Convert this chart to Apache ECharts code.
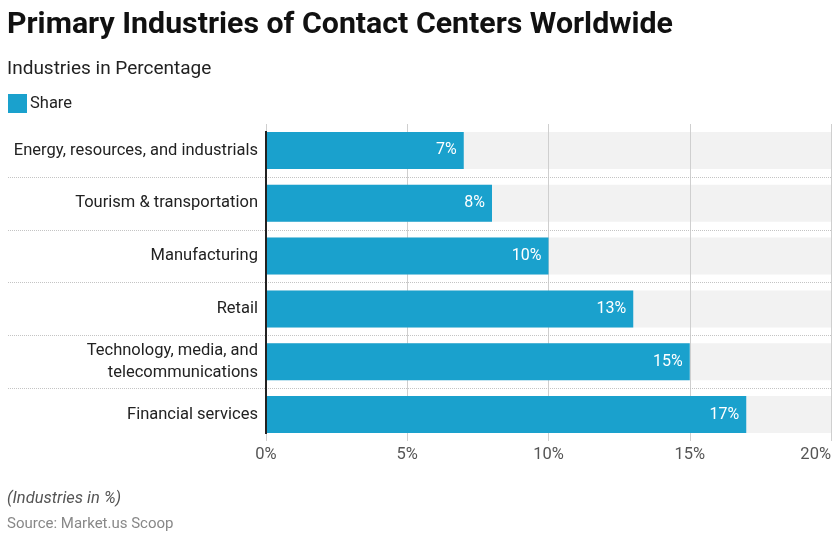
<!DOCTYPE html>
<html>
<head>
<meta charset="utf-8">
<script src="https://cdn.jsdelivr.net/npm/echarts@6/dist/echarts.min.js"></script>
<style>
  html, body { margin: 0; padding: 0; background: #fff; }
  #chart { width: 840px; height: 536px; }
</style>
</head>
<body>
<div id="chart"></div>
<script>
var industries = [
  'Energy, resources, and industrials',
  'Tourism & transportation',
  'Manufacturing',
  'Retail',
  'Technology, media, and\ntelecommunications',
  'Financial services'
];
var share = [7, 8, 10, 13, 15, 17];
var axisMax = 20;
var fullRow = industries.map(function () { return axisMax; });
// separators sit on the top edge of every row except the first
var separators = industries.slice(1).map(function (d, i) { return [0, i + 1]; });

var chart = echarts.init(document.getElementById('chart'));
var font = 'Roboto, "Noto Sans", sans-serif';
var barRatio = 0.7;

var option = {
  textStyle: { fontFamily: font },
  animation: false,
  title: [{
    text: 'Primary Industries of Contact Centers Worldwide',
    left: 2, top: 5,
    textStyle: { fontSize: 30.3, fontWeight: 'bold', color: '#111', fontFamily: font }
  }, {
    text: 'Industries in Percentage',
    left: 2, top: 55,
    textStyle: { fontSize: 19, fontWeight: 'normal', color: '#222', fontFamily: font }
  }, {
    text: '(Industries in %)',
    left: 2, top: 485,
    textStyle: { fontSize: 16.5, fontWeight: 'normal', fontStyle: 'italic', color: '#555', fontFamily: font }
  }, {
    text: 'Source: Market.us Scoop',
    left: 2, top: 512,
    textStyle: { fontSize: 15, fontWeight: 'normal', color: '#888', fontFamily: font }
  }],
  legend: {
    data: ['Share'],
    left: 3, top: 89,
    itemWidth: 19, itemHeight: 19,
    icon: 'rect',
    textStyle: { fontSize: 16.5, color: '#222', fontFamily: font, padding: [0, 0, 0, -2] }
  },
  grid: { left: 266, right: 9, top: 124, bottom: 95, containLabel: false, outerBoundsMode: 'none' },
  xAxis: {
    type: 'value',
    min: 0, max: axisMax, interval: 5,
    z: 2,
    axisLine: { show: false },
    axisTick: { show: false },
    axisLabel: {
      formatter: '{value}%', fontSize: 16.5, color: '#555', margin: 5,
      alignMaxLabel: 'right', fontFamily: font
    },
    splitLine: { show: true, lineStyle: { color: '#cfcfcf', width: 1 } }
  },
  yAxis: {
    type: 'category',
    data: industries,
    inverse: true,
    z: 3,
    axisLine: { show: false },
    axisTick: { show: false },
    splitLine: { show: false },
    axisLabel: { fontSize: 16.5, color: '#222', margin: 8, lineHeight: 22, fontFamily: font }
  },
  series: [{
    name: 'bg',
    type: 'bar',
    data: fullRow,
    barWidth: '70%',
    barGap: '-100%',
    silent: true,
    z: 1,
    itemStyle: { color: '#f2f2f2' }
  }, {
    name: 'Share',
    type: 'bar',
    data: share,
    barWidth: '70%',
    z: 4,
    itemStyle: { color: '#1aa1cd' },
    label: {
      show: true,
      position: 'insideRight',
      distance: 7,
      formatter: '{c}%',
      fontSize: 16,
      color: '#fff',
      fontFamily: font
    }
  }, {
    // dotted row separators running under the labels and across the plot
    name: 'separators',
    type: 'custom',
    silent: true,
    clip: false,
    z: 3,
    data: separators,
    renderItem: function (params, api) {
      var p = api.coord([0, api.value(1)]);
      var band = api.size([0, 1])[1];
      var cs = params.coordSys;
      var y = Math.round(p[1] - band / 2) + 0.5;
      return {
        type: 'line',
        shape: { x1: 8, y1: y, x2: cs.x + cs.width, y2: y },
        style: { stroke: '#c4c4c4', lineWidth: 1, lineDash: [1, 1] }
      };
    }
  }, {
    // dark baseline spanning from the first bar to the last
    name: 'baseline',
    type: 'custom',
    silent: true,
    clip: false,
    z: 5,
    data: [[0, 0, industries.length - 1]],
    renderItem: function (params, api) {
      var top = api.coord([0, api.value(1)]);
      var bottom = api.coord([0, api.value(2)]);
      var half = api.size([0, 1])[1] * barRatio / 2;
      return {
        type: 'line',
        shape: { x1: top[0], y1: top[1] - half - 1, x2: bottom[0], y2: bottom[1] + half + 1 },
        style: { stroke: '#222', lineWidth: 2 }
      };
    }
  }]
};

chart.setOption(option);
</script>
</body>
</html>
